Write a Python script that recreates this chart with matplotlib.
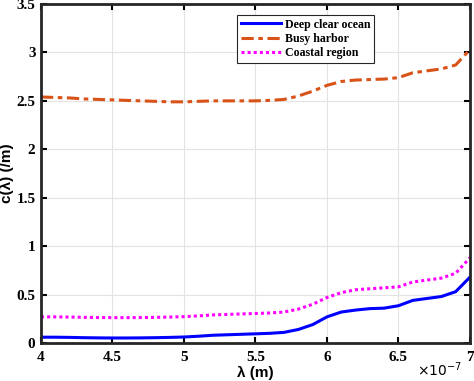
import matplotlib
matplotlib.use("Agg")
import matplotlib.pyplot as plt
import numpy as np

wavelength_nm = [400, 410, 420, 430, 440, 450, 460, 470, 480, 490, 500, 510, 520, 530, 540, 550,
                 560, 570, 580, 590, 600, 610, 620, 630, 640, 650, 660, 670, 680, 690, 700]
deep_clear = [0.06, 0.06, 0.058, 0.055, 0.053, 0.052, 0.052, 0.053, 0.055, 0.058, 0.062, 0.07, 0.08,
              0.085, 0.09, 0.095, 0.10, 0.11, 0.14, 0.19, 0.27, 0.32, 0.34, 0.355, 0.36, 0.385,
              0.44, 0.46, 0.48, 0.53, 0.68]
busy_harbor = [2.54, 2.535, 2.53, 2.52, 2.515, 2.51, 2.505, 2.50, 2.495, 2.49, 2.49, 2.495, 2.50,
               2.50, 2.50, 2.50, 2.505, 2.515, 2.55, 2.60, 2.66, 2.70, 2.715, 2.72, 2.725, 2.74,
               2.79, 2.81, 2.83, 2.87, 3.03]
coastal = [0.27, 0.27, 0.268, 0.265, 0.263, 0.262, 0.262, 0.263, 0.265, 0.268, 0.272, 0.28, 0.29,
           0.295, 0.30, 0.305, 0.31, 0.32, 0.35, 0.40, 0.47, 0.52, 0.55, 0.56, 0.57, 0.58, 0.63,
           0.65, 0.67, 0.72, 0.88]
labels = ["Deep clear ocean", "Busy harbor", "Coastal region"]
xticks = [4, 4.5, 5, 5.5, 6, 6.5, 7]
yticks = [0, 0.5, 1, 1.5, 2, 2.5, 3, 3.5]

x = np.array(wavelength_nm) / 100.0  # in units of 1e-7 m

fig = plt.figure(figsize=(4.74, 3.81), dpi=100)
ax = fig.add_axes([0.0865, 0.0997, 0.905, 0.8898])
serif = "Liberation Serif"
sans = "Liberation Sans"

ax.plot(x, deep_clear, color="#0000FF", lw=2.2, ls="-", label=labels[0])
ax.plot(x, busy_harbor, color="#D95319", lw=2.2, ls=(0, (4, 1.5, 1.5, 1.5)), label=labels[1])
ax.plot(x, coastal, color="#FF00FF", lw=2.2, ls=(0, (1, 1)), label=labels[2])

ax.set_xlim(4, 7)
ax.set_ylim(0, 3.5)
ax.set_xticks(xticks)
ax.set_yticks(yticks)
ax.set_xticklabels([f"{t:g}" for t in xticks], fontfamily=serif, fontweight="bold", fontsize=11)
ax.set_yticklabels([f"{t:g}" for t in yticks], fontfamily=serif, fontweight="bold", fontsize=11)
ax.tick_params(axis="x", direction="in", length=4, width=1.5, top=True, pad=6)
ax.tick_params(axis="y", direction="in", length=4, width=1.5, right=True, pad=4)
ax.grid(True, color="#e3e3e3", lw=0.8)
for s in ax.spines.values():
    s.set_linewidth(2)
    s.set_color("#262626")

ax.set_xlabel("λ (m)", fontfamily=sans, fontweight="bold", fontsize=11, labelpad=1)
ax.set_ylabel("c(λ) (/m)", fontfamily=sans, fontweight="bold", fontsize=11, labelpad=2)
fig.text(462 / 474, 0.004, r"$\times10^{-7}$", ha="right", va="bottom",
         fontfamily=serif, fontsize=10)

leg = ax.legend(loc="upper right", bbox_to_anchor=(0.776, 0.9675),
                prop={"family": serif, "weight": "bold", "size": 8.6},
                frameon=True, fancybox=False, edgecolor="#262626", framealpha=1,
                borderaxespad=0, borderpad=0.3, labelspacing=0.2, handlelength=3.4,
                handletextpad=0.3)
leg.get_frame().set_linewidth(0.8)

fig.savefig("out.png", dpi=100)
